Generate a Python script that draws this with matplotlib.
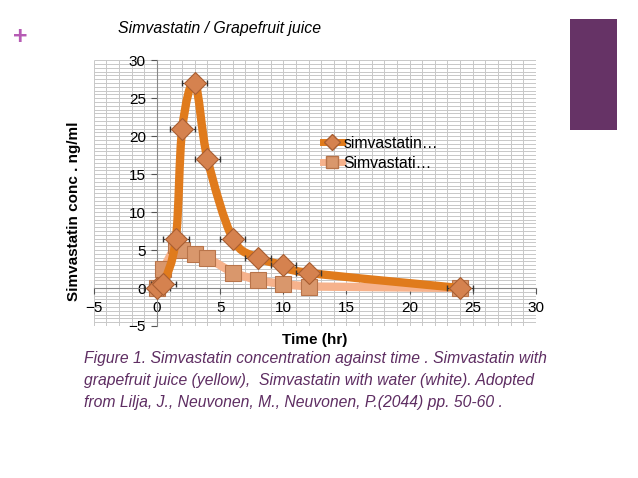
import numpy as np
import matplotlib
matplotlib.use("Agg")
import matplotlib.pyplot as plt
from matplotlib.path import Path
from matplotlib.patches import PathPatch, Rectangle

plt.rcParams['font.family'] = ['Liberation Sans', 'DejaVu Sans']

# data
time_gf = [0, 0.5, 1.5, 2, 3, 4, 6, 8, 10, 12, 24]
conc_gf = [0, 0.5, 6.5, 21, 27, 17, 6.5, 4, 3, 2, 0]
xerr_gf = [1, 1, 1, 1, 1, 1, 1, 1, 1, 1, 1]

time_w = [0, 0.5, 1.5, 2, 3, 4, 6, 8, 10, 12, 24]
conc_w = [0, 2.5, 5.7, 5, 4.5, 4, 2, 1, 0.5, 0.2, 0]

labels = ['simvastatin\u2026', 'Simvastati\u2026']
caption = ("Figure 1. Simvastatin concentration against time . Simvastatin with\n"
           "grapefruit juice (yellow),  Simvastatin with water (white). Adopted\n"
           "from Lilja, J., Neuvonen, M., Neuvonen, P.(2044) pp. 50-60 .")

c_gf = '#E07B1C'
c_w = '#F6B28C'


def smooth_path(xs, ys):
    # excel style smoothed line (bezier through the points)
    pts = np.column_stack([xs, ys]).astype(float)
    n = len(pts)
    verts = [pts[0]]
    codes = [Path.MOVETO]
    for i in range(n - 1):
        p0 = pts[i - 1] if i > 0 else pts[i]
        p3 = pts[i + 2] if i + 2 < n else pts[i + 1]
        c1 = pts[i] + (pts[i + 1] - p0) / 6
        c2 = pts[i + 1] - (p3 - pts[i]) / 6
        verts += [c1, c2, pts[i + 1]]
        codes += [Path.CURVE4] * 3
    return Path(verts, codes)


fig = plt.figure(figsize=(6.38, 4.78), dpi=100)
ax = fig.add_axes([0.147, 0.318, 0.693, 0.556])

ax.set_xlim(-5, 30)
ax.set_ylim(-5, 30)
ax.set_xticks(np.arange(-5, 31, 5))
ax.set_yticks(np.arange(-5, 31, 5))

# grid drawn by hand so the tick labels (with white boxes) sit on top of it
ax.vlines(np.arange(-5, 30.1, 1), -5, 30, color='#C8C8C8', lw=0.7, zorder=0.1)
ax.hlines(np.arange(-5, 30.1, 0.5), -5, 30, color='#C8C8C8', lw=0.7, zorder=0.1)

ax.tick_params(which='major', length=4, color='#555555', labelsize=11)
ax.tick_params(axis='x', pad=5)
ax.tick_params(axis='y', pad=4)
ax.set_axisbelow(True)
for lab in ax.get_xticklabels() + ax.get_yticklabels():
    lab.set_bbox(dict(facecolor='white', edgecolor='none', pad=1))

for s in ['top', 'right']:
    ax.spines[s].set_visible(False)
ax.spines['left'].set_position(('data', 0))
ax.spines['bottom'].set_position(('data', 0))
ax.spines['left'].set_color('#888888')
ax.spines['bottom'].set_color('#888888')
ax.spines['left'].set_linewidth(0.8)
ax.spines['bottom'].set_linewidth(0.8)

# water series
ax.plot(time_w, conc_w, color=c_w, lw=6, solid_joinstyle='round', zorder=3)
ax.plot(time_w, conc_w, ls='none', marker='s', ms=12, mfc='#D9976C',
        mec='#B8744A', mew=0.8, zorder=4)

# grapefruit series
ax.add_patch(PathPatch(smooth_path(time_gf, conc_gf), fill=False,
                       edgecolor=c_gf, lw=6, zorder=5, capstyle='round'))
ax.errorbar(time_gf, conc_gf, xerr=xerr_gf, fmt='none', ecolor='#333333',
            elinewidth=0.8, capsize=2.5, zorder=6)
ax.plot(time_gf, conc_gf, ls='none', marker='D', ms=11, mfc='#D5824F',
        mec='#A85E32', mew=0.8, zorder=7)

# legend
h1, = ax.plot([], [], color=c_gf, lw=5, marker='D', ms=8, mfc='#D5824F', mec='#A85E32')
h2, = ax.plot([], [], color=c_w, lw=5, marker='s', ms=8, mfc='#D9976C', mec='#B8744A')
ax.legend([h1, h2], labels, loc='upper left', bbox_to_anchor=(0.5, 0.745),
          frameon=False, fontsize=11.3, handlelength=1.2, handletextpad=0.1,
          labelspacing=0.3, borderpad=0)

ax.set_xlabel('Time (hr)', fontsize=11, fontweight='bold')
ax.xaxis.set_label_coords(0.5, -0.025)
ax.set_ylabel('Simvastatin conc . ng/ml', fontsize=11, fontweight='bold')
ax.yaxis.set_label_coords(-0.03, 0.43)

fig.text(118 / 638, 1 - 28 / 478, 'Simvastatin / Grapefruit juice',
         fontsize=11.4, style='italic', va='center')
fig.text(84 / 638, 1 - 351 / 478, caption, fontsize=11.3, style='italic',
         color='#5E2D62', va='top', linespacing=1.6)

# slide decorations
fig.text(20 / 638, 1 - 37 / 478, '+', fontsize=18, fontweight='bold',
         color='#B65BB4', ha='center', va='center')
fig.patches.append(Rectangle((570 / 638, 1 - 130 / 478), 47 / 638, 111 / 478,
                             transform=fig.transFigure, facecolor='#663366',
                             edgecolor='none'))

fig.savefig('out.png', dpi=100)
